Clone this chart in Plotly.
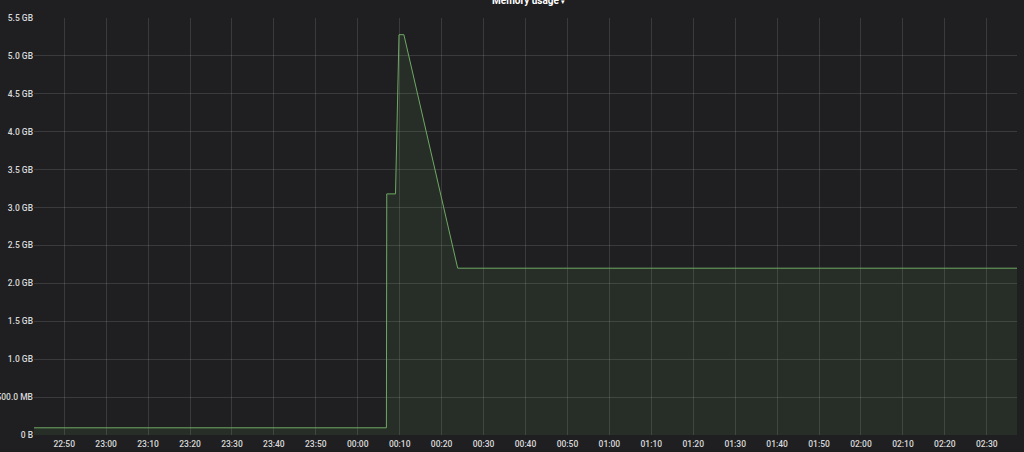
import plotly.graph_objects as go

# Data (memory usage, GB)
times = [
    "2020-01-01 22:42:48",
    "2020-01-02 00:06:50",
    "2020-01-02 00:06:55",
    "2020-01-02 00:09:00",
    "2020-01-02 00:09:50",
    "2020-01-02 00:11:00",
    "2020-01-02 00:23:50",
    "2020-01-02 02:37:12",
]
usage_gb = [0.095, 0.095, 3.18, 3.18, 5.28, 5.28, 2.2, 2.2]

y_tickvals = [0, 0.5, 1.0, 1.5, 2.0, 2.5, 3.0, 3.5, 4.0, 4.5, 5.0, 5.5]
y_ticktext = ["0 B", "500.0 MB", "1.0 GB", "1.5 GB", "2.0 GB", "2.5 GB", "3.0 GB",
              "3.5 GB", "4.0 GB", "4.5 GB", "5.0 GB", "5.5 GB"]

x_range = ["2020-01-01 22:42:48", "2020-01-02 02:37:12"]

bg = "#1f1f21"
grid = "rgba(255,255,255,0.12)"
txt = "#d8d9da"

fig = go.Figure()
fig.add_trace(go.Scatter(
    x=times, y=usage_gb, mode="lines",
    line=dict(color="#6ea862", width=1),
    fill="tozeroy", fillcolor="rgba(115,191,105,0.10)",
    hoverinfo="skip", showlegend=False,
))

tick_font = dict(family="Roboto, Inter, sans-serif", size=8.5, color=txt, weight=500)

fig.update_layout(
    width=1024, height=452,
    paper_bgcolor=bg, plot_bgcolor=bg,
    margin=dict(l=34, r=7, t=18, b=17, autoexpand=False),
    font=dict(family="Roboto, Inter, sans-serif", size=9, color=txt),
    xaxis=dict(
        type="date", range=x_range, dtick=600000, tick0="2020-01-01 22:50:00",
        tickformat="%H:%M", showgrid=True, gridcolor=grid, gridwidth=1,
        zeroline=False, showline=False, ticks="", automargin=False,
        ticklabelstandoff=2, tickfont=tick_font,
    ),
    yaxis=dict(
        range=[0, 5.5], tickvals=y_tickvals, ticktext=y_ticktext,
        showgrid=True, gridcolor=grid, gridwidth=1, zeroline=False,
        showline=False, ticks="", automargin=False,
        tickfont=tick_font,
    ),
    annotations=[dict(
        text="<b>Memory usage</b> <span style='font-size:7px'>▾</span>",
        x=0.5, xref="paper", y=1, yref="paper", xshift=3,
        yshift=18, xanchor="center", yanchor="middle", showarrow=False,
        font=dict(family="Roboto, Inter, sans-serif", size=10, color="#ffffff"),
    )],
)

fig.write_html(
    "out.html",
    config={"displayModeBar": False},
    post_script="document.body.style.margin='0';document.body.style.background='#1f1f21';",
)
